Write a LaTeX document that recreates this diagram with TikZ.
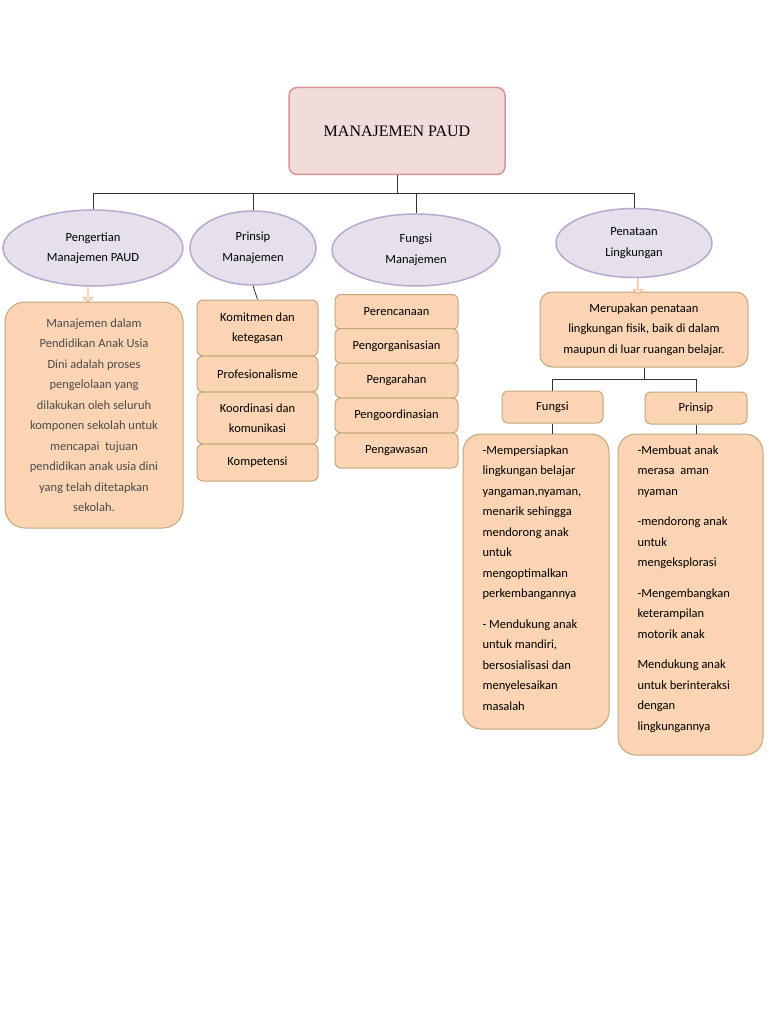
\documentclass[tikz,border=0pt]{standalone}
\usepackage{fontspec}
\setmainfont{Carlito}
\newfontfamily\titlefont{Liberation Serif}
\usetikzlibrary{shapes.geometric,shapes.arrows}
\definecolor{peach}{HTML}{FBD4B4}
\definecolor{peachline}{HTML}{C4A57C}
\definecolor{lav}{HTML}{E5E0EC}
\definecolor{lavline}{HTML}{B7A9CE}
\definecolor{pinkfill}{HTML}{F2DCDB}
\definecolor{pinkline}{HTML}{D99594}
\definecolor{arrowor}{HTML}{F2A46A}
\tikzset{
    oval/.style={ellipse,draw=lavline,fill=lav,line width=1.5pt,align=center,inner sep=0pt},
    box/.style={rectangle,rounded corners=6pt,draw=peachline,fill=peach,line width=1pt,align=center,inner sep=0pt},
    txt/.style={font=\fontsize{12.5}{20.5}\selectfont},
    link/.style={draw=black!80,line width=0.8pt},
    hollow/.style={single arrow,shape border rotate=270,draw=arrowor,fill=peach!60,minimum width=10pt,minimum height=16pt,single arrow head extend=2pt,inner sep=0pt}
}
\begin{document}
\begin{tikzpicture}[x=1pt,y=-1pt]
    \fill[white] (0,0) rectangle (768,1024);

    \node[rectangle,rounded corners=8pt,draw=pinkline,fill=pinkfill,line width=1.5pt,minimum width=216pt,minimum height=87pt,font=\titlefont\fontsize{16}{18}\selectfont] (paud) at (397,131) {MANAJEMEN PAUD};

    \node[oval,txt,minimum width=180pt,minimum height=76pt] (pengertian) at (93,248) {Pengertian\\Manajemen PAUD};
    \node[oval,txt,minimum width=126pt,minimum height=74pt] (prinsip) at (253,248) {Prinsip\\Manajemen};
    \node[oval,txt,minimum width=168pt,minimum height=72pt] (fungsi) at (416,250) {Fungsi\\Manajemen};
    \node[oval,txt,minimum width=156pt,minimum height=69pt] (penataan) at (634,243) {Penataan\\Lingkungan};

    \coordinate (bus) at (397,193);
    \draw[link] (paud.south) -- (bus);
    \draw[link] (pengertian.north |- bus) -- (penataan.north |- bus);
    \foreach \n in {pengertian,prinsip,fungsi,penataan}
        \draw[link] (\n.north |- bus) -- (\n.north);

    % pengertian
    \node[box,rounded corners=20pt,minimum width=178pt,minimum height=226pt,txt,text=black!70] (definisi) at (94,415)
        {Manajemen dalam\\Pendidikan Anak Usia\\Dini adalah proses\\pengelolaan yang\\dilakukan oleh seluruh\\komponen sekolah untuk\\mencapai\ \ tujuan\\pendidikan anak usia dini\\yang telah ditetapkan\\sekolah.};
    \node[hollow] (arrA) at (88,294) {};

    % prinsip manajemen
    \node[box,txt,minimum width=121pt,minimum height=56pt] (komitmen) at (257.5,328) {Komitmen dan\\ketegasan};
    \node[box,txt,minimum width=121pt,minimum height=36pt] (profesi) at (257.5,374) {Profesionalisme};
    \node[box,txt,minimum width=121pt,minimum height=52pt] (koordinasi) at (257.5,418) {Koordinasi dan\\komunikasi};
    \node[box,txt,minimum width=121pt,minimum height=37pt] (kompetensi) at (257.5,462.5) {Kompetensi};
    \draw[link] (prinsip.south) -- (komitmen.north);

    % fungsi manajemen
    \foreach \t/\y [count=\i] in {Perencanaan/312,Pengorganisasian/346,Pengarahan/380.5,Pengoordinasian/415.5,Pengawasan/450.5}
        \node[box,txt,minimum width=123pt,minimum height=35pt] (f\i) at (396.5,\y) {\t};

    % penataan lingkungan
    \node[box,rounded corners=12pt,txt,minimum width=208pt,minimum height=75pt] (fisik) at (644,329.5)
        {Merupakan penataan\\lingkungan fisik, baik di dalam\\maupun di luar ruangan belajar.};
    \node[hollow] (arrB) at (638,286) {};
    \node[box,txt,minimum width=101pt,minimum height=32pt] (lfungsi) at (552.5,407) {Fungsi};
    \node[box,txt,minimum width=102pt,minimum height=32pt] (lprinsip) at (696,408) {Prinsip};
    \coordinate (bus2) at (644,379);
    \draw[link] (fisik.south) -- (bus2);
    \draw[link] (lfungsi.north |- bus2) -- (lprinsip.north |- bus2);
    \draw[link] (lfungsi.north |- bus2) -- (lfungsi.north);
    \draw[link] (lprinsip.north |- bus2) -- (lprinsip.north);

    \node[box,rounded corners=18pt,minimum width=146pt,minimum height=295pt] (isifungsi) at (536,581.5) {};
    \node[txt,align=left,anchor=north west] (tfungsi) at (479,442)
        {-Mempersiapkan\\lingkungan belajar\\yangaman,nyaman,\\menarik sehingga\\mendorong anak\\untuk\\mengoptimalkan\\perkembangannya\\[10pt]- Mendukung anak\\untuk mandiri,\\bersosialisasi dan\\menyelesaikan\\masalah};
    \node[box,rounded corners=18pt,minimum width=145pt,minimum height=321pt] (isiprinsip) at (690.5,594.5) {};
    \node[txt,align=left,anchor=north west] (tprinsip) at (634,442)
        {-Membuat anak\\merasa\ \ aman\\nyaman\\[10pt]-mendorong anak\\untuk\\mengeksplorasi\\[10pt]-Mengembangkan\\keterampilan\\motorik anak\\[10pt]Mendukung anak\\untuk berinteraksi\\dengan\\lingkungannya};
    \draw[link] (lfungsi.south) -- (lfungsi.south |- isifungsi.north);
    \draw[link] (lprinsip.south) -- (lprinsip.south |- isiprinsip.north);
\end{tikzpicture}
\end{document}
